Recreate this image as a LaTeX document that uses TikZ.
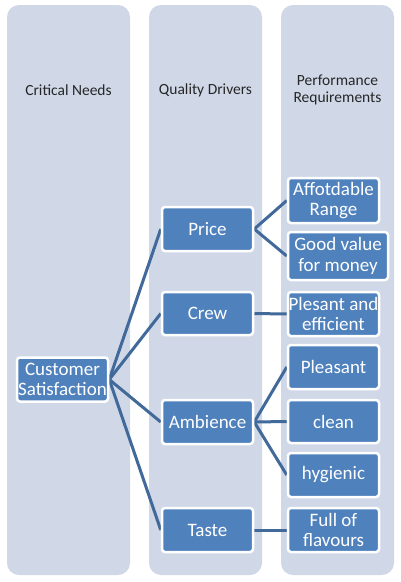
\documentclass[tikz,border=0pt]{standalone}
\usepackage{fontspec}
\setmainfont{Carlito}
\pgfdeclarelayer{colbg}
\pgfdeclarelayer{links}
\pgfsetlayers{colbg,links,main}
\definecolor{colfill}{HTML}{D0D8E8}
\definecolor{boxfill}{HTML}{4F81BD}
\definecolor{linkcol}{HTML}{41699A}
\definecolor{labtext}{HTML}{262626}
\tikzset{
  column/.style={fill=colfill, draw=none, rounded corners=12pt},
  collabel/.style={text=labtext, font=\fontsize{15.5}{17.5}\selectfont, align=center, inner sep=0pt},
  box/.style={rectangle, fill=boxfill, draw=white, line width=2.5pt, rounded corners=3pt,
    text=white, font=\fontsize{19}{20.5}\selectfont, align=center, inner sep=0pt},
  link/.style={draw=linkcol, line width=3pt}
}
\begin{document}
\begin{tikzpicture}[x=1pt,y=-1pt]
\begin{pgfonlayer}{colbg}
\fill[white] (0,0) rectangle (400,582);
\path[column] (7,5) rectangle (130,575);
\path[column] (149,5) rectangle (262,575);
\path[column] (281,5) rectangle (394,575);
\end{pgfonlayer}
\useasboundingbox (0,0) rectangle (400,582);
\node[collabel] (l1) at (68.5,90) {Critical Needs};
\node[collabel] (l2) at (205.5,90) {Quality Drivers};
\node[collabel] (l3) at (337.5,90) {Performance\\Requirements};

\node[box, minimum width=91pt, minimum height=44pt] (cs) at (62.5,379.5) {Customer\\Satisfaction};

\node[box, minimum width=91pt, minimum height=44pt] (price) at (207.5,229) {Price};
\node[box, minimum width=91pt, minimum height=43pt] (crew) at (207.5,313.5) {Crew};
\node[box, minimum width=91pt, minimum height=44pt] (amb) at (207.5,422) {Ambience};
\node[box, minimum width=91pt, minimum height=44pt] (taste) at (207.5,530) {Taste};

\node[box, minimum width=91pt, minimum height=45pt] (afr) at (333.5,200.5) {Affotdable\\Range};
\node[box, minimum width=100pt, minimum height=48pt] (gv) at (338,256) {Good value\\for money};
\node[box, minimum width=91pt, minimum height=44pt] (pe) at (333.5,314) {Plesant and\\efficient};
\node[box, minimum width=91pt, minimum height=44pt] (pl) at (333.5,367) {Pleasant};
\node[box, minimum width=91pt, minimum height=43pt] (cl) at (333.5,421.5) {clean};
\node[box, minimum width=91pt, minimum height=44pt] (hy) at (333.5,475) {hygienic};
\node[box, minimum width=91pt, minimum height=44pt] (ff) at (333.5,530) {Full of\\flavours};

\begin{pgfonlayer}{links}
\draw[link] (cs.east) -- (price.west);
\draw[link] (cs.east) -- (crew.west);
\draw[link] (cs.east) -- (amb.west);
\draw[link] (cs.east) -- (taste.west);
\draw[link] (price.east) -- (afr.west);
\draw[link] (price.east) -- (gv.west);
\draw[link] (crew.east) -- (pe.west);
\draw[link] (amb.east) -- (pl.west);
\draw[link] (amb.east) -- (cl.west);
\draw[link] (amb.east) -- (hy.west);
\draw[link] (taste.east) -- (ff.west);
\end{pgfonlayer}
\end{tikzpicture}
\end{document}
